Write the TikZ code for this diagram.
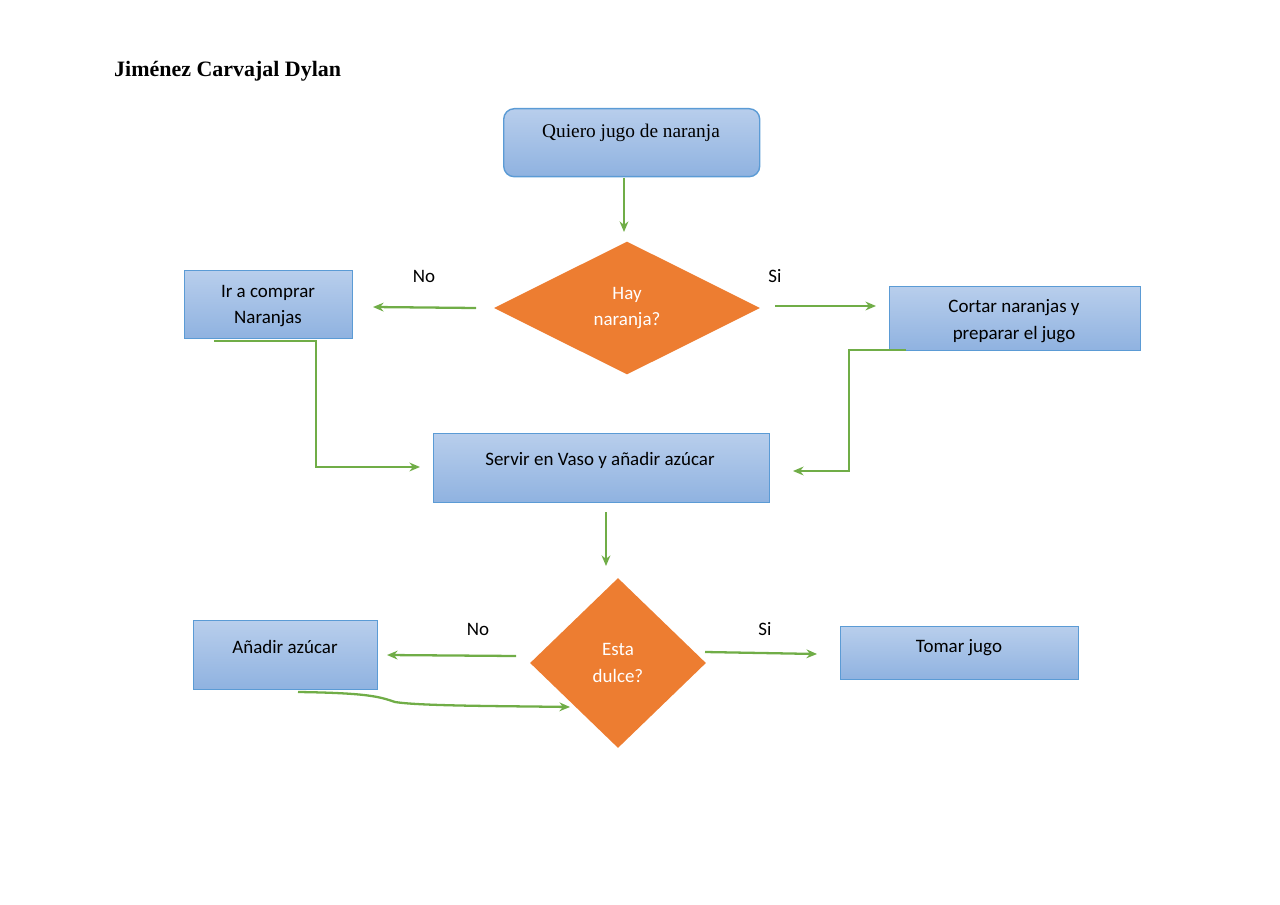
\documentclass[tikz,border=0pt]{standalone}
\usepackage{fontspec}
\setmainfont{Carlito}
\newfontfamily\serifq{Liberation Serif}
\usetikzlibrary{shapes.geometric,arrows.meta}
\definecolor{gr}{HTML}{70AD47}
\definecolor{org}{HTML}{ED7D31}
\definecolor{bl}{HTML}{5B9BD5}
\tikzset{
 box/.style={draw=bl,line width=0.8pt,top color=blue!5!cyan!10!white,top color={rgb,255:red,184;green,206;blue,236},bottom color={rgb,255:red,143;green,178;blue,224},anchor=north west,inner sep=0pt,font=\fontsize{10.8pt}{13pt}\selectfont,align=center},
 dia/.style={diamond,fill=org,inner sep=0pt,text=white,font=\fontsize{10.8pt}{15pt}\selectfont,align=center},
 arr/.style={draw=gr,line width=1.3pt,-{Stealth[length=6pt,width=5pt]}},
 lbl/.style={font=\fontsize{10.8pt}{13pt}\selectfont}
}
\begin{document}
\begin{tikzpicture}[x=0.02cm,y=-0.02cm]
\useasboundingbox (0,0) rectangle (1280,905);
\node[anchor=base west,font=\serifq\bfseries\fontsize{12.5pt}{15pt}\selectfont] (t) at (108,77) {Jiménez Carvajal Dylan};
% boxes
\node[box,rounded corners=6pt,minimum width=256*0.02cm,minimum height=68*0.02cm,font=\serifq\fontsize{11pt}{13pt}\selectfont] (q) at (503,108) {};
\node at (631,133) {\serifq\fontsize{11pt}{13pt}\selectfont Quiero jugo de naranja};
\node[box,minimum width=168*0.02cm,minimum height=68*0.02cm] (ir) at (184,270) {};
\node[align=center,font=\fontsize{10.8pt}{15pt}\selectfont] at (268,306) {Ir a comprar\\Naranjas};
\node[box,minimum width=251*0.02cm,minimum height=64*0.02cm] (co) at (889,286) {};
\node[align=center,font=\fontsize{10.8pt}{15pt}\selectfont] at (1014,321) {Cortar naranjas y\\preparar el jugo};
\node[box,minimum width=336*0.02cm,minimum height=69*0.02cm] (se) at (433,433) {};
\node[font=\fontsize{10.8pt}{13pt}\selectfont] at (600,460) {Servir en Vaso y añadir azúcar};
\node[box,minimum width=184*0.02cm,minimum height=69*0.02cm] (an) at (193,620) {};
\node[font=\fontsize{10.8pt}{13pt}\selectfont] at (285,647) {Añadir azúcar};
\node[box,minimum width=238*0.02cm,minimum height=53*0.02cm] (to) at (840,626) {};
\node[font=\fontsize{10.8pt}{13pt}\selectfont] at (959,648) {Tomar jugo};
% diamonds
\node[dia,minimum width=266*0.02cm,minimum height=133*0.02cm] (d1) at (627,308) {Hay\\naranja?};
\node[dia,minimum width=176*0.02cm,minimum height=170*0.02cm] (d2) at (618,663) {Esta\\dulce?};
% labels
\node[lbl] (n1) at (424,276) {No};
\node[lbl] (s1) at (775,276) {Si};
\node[lbl] (n2) at (478,629) {No};
\node[lbl] (s2) at (765,629) {Si};
% coordinates
\coordinate (a1) at (624,178); \coordinate (a2) at (624,232);
\coordinate (b1) at (476,308); \coordinate (b2) at (373,307);
\coordinate (c1) at (775,306); \coordinate (c2) at (876,306);
\coordinate (e1) at (214,341); \coordinate (e2) at (420,467);
\coordinate (f1) at (906,350); \coordinate (f2) at (793,471);
\coordinate (g1) at (606,512); \coordinate (g2) at (606,566);
\coordinate (h1) at (516,656); \coordinate (h2) at (387,655);
\coordinate (i1) at (705,652); \coordinate (i2) at (817,654);
\coordinate (j1) at (298,692); \coordinate (j2) at (570,707);
\draw[arr] (a1) -- (a2);
\draw[arr] (b1) -- (b2);
\draw[arr] (c1) -- (c2);
\draw[arr] (e1) -- (316,341) -- (316,467) -- (e2);
\draw[arr] (f1) -- (849,350) -- (849,471) -- (f2);
\draw[arr] (g1) -- (g2);
\draw[arr] (h1) -- (h2);
\draw[arr] (i1) -- (i2);
\draw[arr] (j1) .. controls (370,693) and (380,697) .. (395,702) .. controls (420,706) and (500,706) .. (j2);
\end{tikzpicture}
\end{document}
